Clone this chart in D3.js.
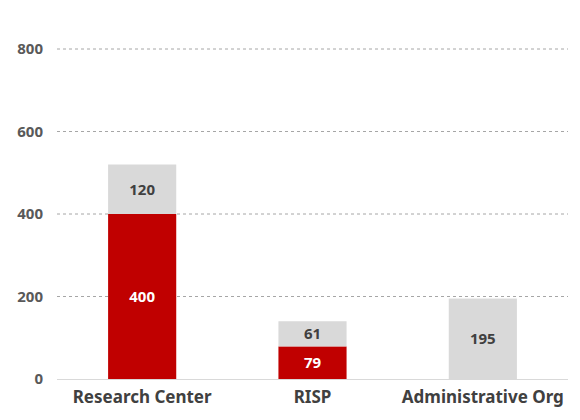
<!DOCTYPE html>
<html>
<head>
<meta charset="utf-8">
<script src="https://cdn.jsdelivr.net/npm/d3@7"></script>
<style>
  body { margin: 0; background: #fff; }
  text { font-family: "Noto Sans", "Noto Sans CJK KR", sans-serif; font-weight: bold; }
</style>
</head>
<body>
<div id="chart" style="width:580px;height:420px"></div>
<script>
var categories = ["Research Center", "RISP", "Administrative Org"];
var redValues = [400, 79, 0];
var grayValues = [120, 61, 195];
var yTicks = [0, 200, 400, 600, 800];

var width = 580, height = 420;
var svg = d3.select("#chart").append("svg")
  .attr("width", width)
  .attr("height", height);

// scales
var x = d3.scaleBand()
  .domain(categories)
  .range([57, 568])
  .paddingInner(0.6)
  .paddingOuter(0.3);
var y = d3.scaleLinear()
  .domain([0, 800])
  .range([379, 49]);

// grid lines
svg.append("g")
  .selectAll("line")
  .data(yTicks.filter(function(d) { return d > 0; }))
  .join("line")
  .attr("x1", 57).attr("x2", 568)
  .attr("y1", function(d) { return y(d); })
  .attr("y2", function(d) { return y(d); })
  .attr("stroke", "#a6a6a6")
  .attr("stroke-width", 1)
  .attr("stroke-dasharray", "3,3");

// y axis labels
var yAxis = svg.append("g")
  .attr("transform", "translate(43,0)")
  .call(d3.axisLeft(y).tickValues(yTicks).tickSize(0).tickPadding(0));
yAxis.select(".domain").remove();
yAxis.selectAll("text")
  .attr("fill", "#595959")
  .style("font-size", "15px")
  .style("font-family", "'Noto Sans', sans-serif")
  .style("font-weight", "bold");

var data = categories.map(function(c, i) {
  return { cat: c, red: redValues[i], gray: grayValues[i] };
});

// red segments
svg.append("g").selectAll("rect")
  .data(data.filter(function(d) { return d.red > 0; }))
  .join("rect")
  .attr("x", function(d) { return x(d.cat); })
  .attr("width", x.bandwidth())
  .attr("y", function(d) { return y(d.red); })
  .attr("height", function(d) { return y(0) - y(d.red); })
  .attr("fill", "#c00000");

// gray segments
svg.append("g").selectAll("rect")
  .data(data)
  .join("rect")
  .attr("x", function(d) { return x(d.cat); })
  .attr("width", x.bandwidth())
  .attr("y", function(d) { return y(d.red + d.gray); })
  .attr("height", function(d) { return y(d.red) - y(d.red + d.gray); })
  .attr("fill", "#d9d9d9");

// x axis
var xAxis = svg.append("g")
  .attr("transform", "translate(0,379)")
  .call(d3.axisBottom(x).tickSize(0).tickPadding(12));
xAxis.select(".domain")
  .attr("d", "M57,0.5H568")
  .attr("stroke", "#d9d9d9");
xAxis.selectAll("text")
  .attr("fill", "#404040")
  .style("font-size", "17px")
  .style("font-family", "'Noto Sans', sans-serif")
  .style("font-weight", "bold");

// value labels
svg.append("g").selectAll("text")
  .data(data.filter(function(d) { return d.red > 0; }))
  .join("text")
  .attr("x", function(d) { return x(d.cat) + x.bandwidth() / 2; })
  .attr("y", function(d) { return y(d.red / 2); })
  .attr("dy", "0.35em")
  .attr("text-anchor", "middle")
  .attr("fill", "#ffffff")
  .style("font-size", "15px")
  .text(function(d) { return d.red; });

svg.append("g").selectAll("text")
  .data(data)
  .join("text")
  .attr("x", function(d) { return x(d.cat) + x.bandwidth() / 2; })
  .attr("y", function(d) { return y(d.red + d.gray / 2); })
  .attr("dy", "0.35em")
  .attr("text-anchor", "middle")
  .attr("fill", "#404040")
  .style("font-size", "15px")
  .text(function(d) { return d.gray; });
</script>
</body>
</html>
